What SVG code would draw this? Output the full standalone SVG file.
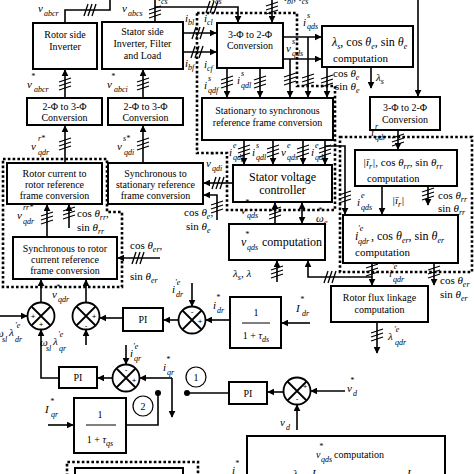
<svg xmlns="http://www.w3.org/2000/svg" width="474" height="474" viewBox="0 0 474 474">
<defs>
<style>
.bx{fill:#fff;stroke:#000;stroke-width:2}
.ln{fill:none;stroke:#000;stroke-width:1.6}
.ar{marker-end:url(#a)}
.dt{fill:none;stroke:#000;stroke-width:2.6;stroke-dasharray:2.6 2.2}
.t{font-family:"Liberation Serif",serif;font-size:10px;text-anchor:middle;fill:#000}
.tl{font-family:"Liberation Serif",serif;font-size:12px;text-anchor:middle;fill:#000}
.m{font-family:"Liberation Serif",serif;font-size:11px;font-style:italic;fill:#000}
.sb{font-size:8px}
.up{font-style:normal}
.jc{fill:#fff;stroke:#000;stroke-width:1.8}
.sg{font-family:"Liberation Sans",sans-serif;font-size:8px;text-anchor:middle;fill:#000}
.nc{fill:#fff;stroke:#000;stroke-width:1.2}
</style>
<marker id="a" viewBox="0 0 10 10" refX="9" refY="5" markerWidth="7" markerHeight="7" markerUnits="userSpaceOnUse" orient="auto-start-reverse"><path d="M0,0 L10,5 L0,10 z"/></marker>
<path id="hv" d="M-6,-2 L6,-6 M-6,2 L6,-2 M-6,6 L6,2" fill="none" stroke="#000" stroke-width="1.3"/>
<path id="hh" d="M-6,6 L-2,-6 M-2,6 L2,-6 M2,6 L6,-6" fill="none" stroke="#000" stroke-width="1.3"/>
<g id="jx"><circle r="13.5" class="jc"/><path d="M-9.5,-9.5 L9.5,9.5 M-9.5,9.5 L9.5,-9.5" stroke="#000" stroke-width="1.8"/></g>
</defs>
<rect width="474" height="474" fill="#fff"/>

<g id="dotted">
<path class="dt" d="M197,13 H297 V86 H335 V210 H227 V153 H197 Z"/>
<path class="dt" d="M340,137 H472 V272 H340 Z"/>
<path class="dt" d="M3,159 H107 V212 H122 V287 H3 Z"/>
<path class="dt" d="M67,476 V462 H198 V476"/>
</g>

<g id="connectors" class="ln">
<path d="M65,23 V10 H110 V0"/>
<path d="M155,22 V0"/>
<path class="ar" d="M155,7 H238 V22"/>
<path class="ar" d="M272,0 V22"/>
<path class="ar" d="M183,33 H216"/>
<path class="ar" d="M183,52 H216"/>
<path class="ar" d="M65,98 V70"/>
<path class="ar" d="M143,98 V70"/>
<path class="ar" d="M65,163 V126"/>
<path class="ar" d="M143,163 V126"/>
<path class="ar" d="M283,37 H321"/>
<path class="ar" d="M283,59 H321"/>
<path class="ar" d="M308,37 V97"/>
<path class="ar" d="M290,59 V97"/>
<path class="ar" d="M227,68 V97"/>
<path class="ar" d="M260,68 V97"/>
<path class="ar" d="M327,67 V97"/>
<path class="ar" d="M371,67 V88"/>
<path class="ar" d="M418,0 V96"/>
<path class="ar" d="M398,130 V149"/>
<path class="ar" d="M244,140 V164"/>
<path class="ar" d="M273,140 V164"/>
<path class="ar" d="M303,140 V164"/>
<path class="ar" d="M325,140 V164"/>
<path class="ar" d="M325,146 H345 V214"/>
<path class="ar" d="M382,186 V214"/>
<path class="ar" d="M428,186 V205"/>
<path class="ar" d="M233,183 H204"/>
<path class="ar" d="M217,220 V195 H204"/>
<path class="ar" d="M275,224 V203"/>
<path class="ar" d="M302,213 V203"/>
<path class="ar" d="M302,213 V223"/>
<path class="ar" d="M372,263 V285"/>
<path class="ar" d="M372,277 H308 V261"/>
<path class="ar" d="M277,282 V261"/>
<path class="ar" d="M434,263 V285"/>
<path class="ar" d="M377,322 V353"/>
<path class="ar" d="M47,237 V205"/>
<path class="ar" d="M69,228 V205"/>
<path class="ar" d="M160,258 H118"/>
<path class="ar" d="M41,302 V280"/>
<path class="ar" d="M86,302 V280"/>
<path class="ar" d="M0,316 H27"/>
<path class="ar" d="M123,318 H100"/>
<path class="ar" d="M86,345 V330"/>
<path class="ar" d="M59,378 H41 V330"/>
<path class="ar" d="M112,378 H98"/>
<path class="ar" d="M126,345 V364"/>
<path class="ar" d="M172,378 H140"/>
<path class="ar" d="M172,378 V417"/>
<path d="M126,425 H158 V393"/>
<path class="ar" d="M48,425 H73"/>
<path class="ar" d="M178,320 H164"/>
<path class="ar" d="M192,283 V306"/>
<path class="ar" d="M230,320 H206"/>
<path class="ar" d="M310,323 H282"/>
<path d="M187,393 H229"/>
<path class="ar" d="M283,392 H268"/>
<path class="ar" d="M345,391 H311"/>
<path class="ar" d="M297,430 V405"/>
</g>

<g id="hatches">
<use href="#hh" x="90" y="10"/>
<use href="#hv" x="155" y="12"/>
<use href="#hh" x="212" y="7"/>
<use href="#hv" x="272" y="8"/>
<use href="#hh" x="198" y="33"/>
<use href="#hh" x="197" y="52"/>
<use href="#hv" x="65" y="84"/>
<use href="#hv" x="143" y="84"/>
<use href="#hv" x="65" y="144"/>
<use href="#hv" x="143" y="144"/>
<use href="#hv" x="308" y="80"/>
<use href="#hv" x="290" y="79"/>
<use href="#hv" x="227" y="82"/>
<use href="#hv" x="260" y="82"/>
<use href="#hv" x="327" y="81"/>
<use href="#hv" x="398" y="140"/>
<use href="#hv" x="244" y="151"/>
<use href="#hv" x="273" y="151"/>
<use href="#hv" x="303" y="151"/>
<use href="#hv" x="325" y="151"/>
<use href="#hv" x="345" y="197"/>
<use href="#hv" x="428" y="194"/>
<use href="#hh" x="218" y="183"/>
<use href="#hv" x="217" y="207"/>
<use href="#hv" x="275" y="213"/>
<use href="#hv" x="372" y="270"/>
<use href="#hh" x="330" y="277"/>
<use href="#hv" x="277" y="272"/>
<use href="#hv" x="434" y="272"/>
<use href="#hv" x="377" y="335"/>
<use href="#hv" x="47" y="218"/>
<use href="#hv" x="69" y="213"/>
<use href="#hh" x="138" y="258"/>
</g>

<g id="n_rsi"><rect class="bx" x="33" y="23" width="64" height="46"/><text class="t" x="65" y="38">Rotor side</text><text class="t" x="65" y="50">Inverter</text></g>
<g id="n_ssi"><rect class="bx" x="102" y="22" width="81" height="47"/><text class="t" x="142.5" y="35">Stator side</text><text class="t" x="142.5" y="47">Inverter, Filter</text><text class="t" x="142.5" y="59">and Load</text></g>
<g id="n_32s"><rect class="bx" x="217" y="23" width="66" height="45"/><text class="t" x="250" y="38">3-Φ to 2-Φ</text><text class="t" x="250" y="49">Conversion</text></g>
<g id="n_lam"><rect class="bx" x="322" y="26" width="91" height="41"/>
<text class="m" x="332" y="46" style="font-size:12px">λ<tspan class="sb" dy="3">s</tspan><tspan class="up" dy="-3">, cos </tspan>θ<tspan class="sb" dy="3">e</tspan><tspan class="up" dy="-3">, sin </tspan>θ<tspan class="sb" dy="3">e</tspan></text>
<text class="m" x="333" y="62" style="font-style:normal">computation</text></g>
<g id="n_23r"><rect class="bx" x="27" y="98" width="75" height="27"/><text class="t" x="64.5" y="110">2-Φ to 3-Φ</text><text class="t" x="64.5" y="121">Conversion</text></g>
<g id="n_23s"><rect class="bx" x="108" y="98" width="75" height="27"/><text class="t" x="145.5" y="110">2-Φ to 3-Φ</text><text class="t" x="145.5" y="121">Conversion</text></g>
<g id="n_32r"><rect class="bx" x="370" y="97" width="70" height="33"/><text class="t" x="405" y="111">3-Φ to 2-Φ</text><text class="t" x="405" y="123">Conversion</text></g>
<g id="n_s2s"><rect class="bx" x="202" y="98" width="131" height="42"/><text class="t" x="267.5" y="114">Stationary to synchronous</text><text class="t" x="267.5" y="126">reference frame conversion</text></g>
<g id="n_rc2r"><rect class="bx" x="7" y="163" width="95" height="41"/><text class="t" x="54.5" y="177">Rotor current to</text><text class="t" x="54.5" y="188">rotor reference</text><text class="t" x="54.5" y="199">frame conversion</text></g>
<g id="n_sy2st"><rect class="bx" x="108" y="163" width="95" height="41"/><text class="t" x="155.5" y="177">Synchronous to</text><text class="t" x="155.5" y="188">stationary reference</text><text class="t" x="155.5" y="199">frame conversion</text></g>
<g id="n_svc"><rect class="bx" x="233" y="165" width="99" height="37"/><text class="tl" x="282.5" y="181">Stator voltage</text><text class="tl" x="282.5" y="194">controller</text></g>
<g id="n_ir"><rect class="bx" x="355" y="150" width="102" height="36"/>
<text class="m" x="363" y="166">|ī<tspan class="sb" dy="3">r</tspan><tspan dy="-3">|</tspan><tspan class="up">, cos </tspan>θ<tspan class="sb" dy="3">rr</tspan><tspan class="up" dy="-3">, sin </tspan>θ<tspan class="sb" dy="3">rr</tspan></text>
<text class="m" x="367" y="182" style="font-style:normal;font-size:10.5px">computation</text></g>
<g id="n_sy2r"><rect class="bx" x="13" y="237" width="104" height="42"/><text class="t" x="65" y="252">Synchronous to rotor</text><text class="t" x="65" y="263">current reference</text><text class="t" x="65" y="274">frame conversion</text></g>
<g id="n_vqc"><rect class="bx" x="229" y="224" width="96" height="36"/>
<text class="m" x="241" y="246" style="font-size:12px">v<tspan class="sb" x="245" y="237">*</tspan><tspan class="sb" x="247" y="250">qds</tspan><tspan class="up" x="262" y="246">computation</tspan></text></g>
<g id="n_iqdr"><rect class="bx" x="343" y="215" width="115" height="48"/>
<text class="m" x="355" y="240" style="font-size:12px">i<tspan class="sb" x="358" y="231">'e</tspan><tspan class="sb" x="358" y="244">qdr</tspan><tspan class="up" x="371" y="240">, cos </tspan>θ<tspan class="sb" dy="3">er</tspan><tspan class="up" dy="-3">, sin </tspan>θ<tspan class="sb" dy="3">er</tspan></text>
<text class="m" x="355" y="256" style="font-style:normal">computation</text></g>
<g id="n_rfl"><rect class="bx" x="331" y="286" width="97" height="36"/><text class="t" x="379.5" y="301">Rotor flux linkage</text><text class="t" x="379.5" y="313">computation</text></g>
<g id="n_pi1"><rect class="bx" x="123" y="308" width="40" height="23"/><text class="t" x="143" y="323">PI</text></g>
<g id="n_pi2"><rect class="bx" x="59" y="367" width="38" height="21"/><text class="t" x="78" y="381">PI</text></g>
<g id="n_pi3"><rect class="bx" x="229" y="382" width="38" height="22"/><text class="t" x="248" y="397">PI</text></g>
<g id="n_tfds"><rect class="bx" x="230" y="297" width="51" height="51"/><text class="t" x="256" y="316">1</text><path d="M242,323 H270" stroke="#000" stroke-width="1"/><text class="t" x="256" y="339">1 + <tspan font-style="italic">τ</tspan><tspan class="sb" font-style="italic" dy="3">ds</tspan></text></g>
<g id="n_tfqs"><rect class="bx" x="74" y="398" width="52" height="55"/><text class="t" x="100" y="418">1</text><path d="M86,425 H116" stroke="#000" stroke-width="1"/><text class="t" x="100" y="443">1 + <tspan font-style="italic">τ</tspan><tspan class="sb" font-style="italic" dy="3">qs</tspan></text></g>
<g id="n_vqc2"><rect class="bx" x="247" y="436" width="198" height="50"/>
<text class="m" x="316" y="458" style="font-size:10px">v<tspan class="sb" x="319" y="449">*</tspan><tspan class="sb" x="321" y="462">qds</tspan><tspan class="up" x="334" y="458">computation</tspan></text>
<text class="m" x="293" y="477">λ</text><text class="m" x="312" y="477">I</text><text class="m" x="407" y="477">I</text></g>
<g id="n_bl"><rect class="bx" x="75" y="468" width="108" height="20"/></g>

<g id="j1"><use href="#jx" x="41" y="316"/><text class="sg" x="33" y="319">+</text><text class="sg" x="41" y="327">+</text></g>
<g id="j2"><use href="#jx" x="86" y="316"/><text class="sg" x="94" y="319">+</text><text class="sg" x="86" y="328">-</text></g>
<g id="j3"><use href="#jx" x="126" y="378"/><text class="sg" x="126" y="372">-</text><text class="sg" x="134" y="383">+</text></g>
<g id="j4"><use href="#jx" x="297" y="391"/><text class="sg" x="305" y="389">+</text><text class="sg" x="297" y="401">-</text></g>
<g id="j5"><use href="#jx" x="192" y="320"/><text class="sg" x="192" y="314">-</text><text class="sg" x="200" y="324">+</text></g>
<g id="sw1"><circle class="nc" cx="196" cy="377" r="10"/><text class="t" x="196" y="381">1</text><circle cx="187" cy="393" r="3"/></g>
<g id="sw2"><circle class="nc" cx="143" cy="406" r="10"/><text class="t" x="143" y="410">2</text><circle cx="158" cy="393" r="3"/></g>

<g id="labels">
<text class="m" x="38" y="12">v<tspan class="sb" x="44" y="16">abcr</tspan></text>
<text class="m" x="122" y="12">v<tspan class="sb" x="128" y="16">abcs</tspan></text>
<text class="m" x="158" y="1">i<tspan class="sb" x="161" y="4">cs</tspan></text>
<text class="m" x="212" y="1">i<tspan class="sb" x="215" y="4">cs</tspan></text>
<text class="m" x="284" y="1">i<tspan class="sb" x="287" y="4">bl</tspan><tspan dy="-3">, i</tspan><tspan class="sb" dy="3">cs</tspan></text>
<text class="m" x="185" y="22">i<tspan class="sb" x="188" y="25">bl</tspan></text>
<text class="m" x="204" y="22">i<tspan class="sb" x="207" y="25">cl</tspan></text>
<text class="m" x="185" y="67">i<tspan class="sb" x="188" y="70">bf</tspan></text>
<text class="m" x="204" y="68">i<tspan class="sb" x="207" y="71">cf</tspan></text>
<text class="m" x="303" y="26">i<tspan class="sb" x="307" y="18">s</tspan><tspan class="sb" x="307" y="29">qds</tspan></text>
<text class="m" x="286" y="52">v<tspan class="sb" x="292" y="44">s</tspan><tspan class="sb" x="292" y="56">qds</tspan></text>
<text class="m" x="204" y="89">i<tspan class="sb" x="208" y="81">s</tspan><tspan class="sb" x="208" y="93">qdf</tspan></text>
<text class="m" x="237" y="84">i<tspan class="sb" x="241" y="76">s</tspan><tspan class="sb" x="241" y="88">qdl</tspan></text>
<text class="m" x="333" y="77"><tspan class="up">cos </tspan>θ<tspan class="sb" dy="3">e</tspan></text>
<text class="m" x="335" y="90"><tspan class="up">sin </tspan>θ<tspan class="sb" dy="3">e</tspan></text>
<text class="m" x="376" y="81">λ<tspan class="sb" dy="3">s</tspan></text>
<text class="m" x="27" y="88">v<tspan class="sb" x="31" y="79">*</tspan><tspan class="sb" x="34" y="92">abcr</tspan></text>
<text class="m" x="107" y="88">v<tspan class="sb" x="111" y="79">*</tspan><tspan class="sb" x="114" y="92">abci</tspan></text>
<text class="m" x="31" y="150">v<tspan class="sb" x="38" y="141">r*</tspan><tspan class="sb" x="38" y="155">qdr</tspan></text>
<text class="m" x="117" y="150">v<tspan class="sb" x="123" y="141">s*</tspan><tspan class="sb" x="124" y="155">qdi</tspan></text>
<text class="m" x="371" y="136">i<tspan class="sb" x="375" y="129">r</tspan><tspan class="sb" x="375" y="140">qdr</tspan></text>
<text class="m" x="229" y="156">i<tspan class="sb" x="233" y="148">e</tspan><tspan class="sb" x="233" y="160">qdf</tspan></text>
<text class="m" x="252" y="156">i<tspan class="sb" x="256" y="148">s</tspan><tspan class="sb" x="256" y="160">qdl</tspan></text>
<text class="m" x="281" y="156">v<tspan class="sb" x="287" y="148">e</tspan><tspan class="sb" x="287" y="160">qds</tspan></text>
<text class="m" x="311" y="156">i<tspan class="sb" x="315" y="148">e</tspan><tspan class="sb" x="315" y="160">qds</tspan></text>
<text class="m" x="438" y="199"><tspan class="up">cos </tspan>θ<tspan class="sb" dy="3">rr</tspan></text>
<text class="m" x="438" y="212"><tspan class="up">sin </tspan>θ<tspan class="sb" dy="3">rr</tspan></text>
<text class="m" x="392" y="204">|ī<tspan class="sb" dy="3">r</tspan><tspan dy="-3">|</tspan></text>
<text class="m" x="357" y="206">i<tspan class="sb" x="361" y="198">e</tspan><tspan class="sb" x="361" y="210">qds</tspan></text>
<text class="m" x="206" y="167">v<tspan class="sb" x="210" y="158">*</tspan><tspan class="sb" x="212" y="171">qdi</tspan></text>
<text class="m" x="184" y="216"><tspan class="up">cos </tspan>θ<tspan class="sb" dy="3">e</tspan><tspan dy="-3">,</tspan></text>
<text class="m" x="186" y="230"><tspan class="up">sin </tspan>θ<tspan class="sb" dy="3">e</tspan></text>
<text class="m" x="241" y="214">v<tspan class="sb" x="245" y="205">*</tspan><tspan class="sb" x="247" y="218">qds</tspan></text>
<text class="m" x="316" y="222">ω<tspan class="sb" x="318" y="213">*</tspan><tspan class="sb" x="324" y="225">e</tspan></text>
<text class="m" x="233" y="277">λ<tspan class="sb" dy="3">s</tspan><tspan dy="-3">, λ</tspan></text>
<text class="m" x="389" y="277">i<tspan class="sb" x="392" y="269">'e</tspan><tspan class="sb" x="393" y="282">qdr</tspan></text>
<text class="m" x="440" y="284"><tspan class="up">cos </tspan>θ<tspan class="sb" dy="3">er</tspan></text>
<text class="m" x="440" y="298"><tspan class="up">sin </tspan>θ<tspan class="sb" dy="3">er</tspan></text>
<text class="m" x="388" y="340">λ<tspan class="sb" x="394" y="332">'e</tspan><tspan class="sb" x="395" y="345">qdr</tspan></text>
<text class="m" x="17" y="219">v<tspan class="sb" x="23" y="210">rr*</tspan><tspan class="sb" x="23" y="224">qdr</tspan></text>
<text class="m" x="77" y="217"><tspan class="up">cos </tspan>θ<tspan class="sb" dy="3">rr</tspan><tspan dy="-3">,</tspan></text>
<text class="m" x="77" y="231"><tspan class="up">sin </tspan>θ<tspan class="sb" dy="3">rr</tspan></text>
<text class="m" x="130" y="249"><tspan class="up">cos </tspan>θ<tspan class="sb" dy="3">er</tspan><tspan dy="-3">,</tspan></text>
<text class="m" x="130" y="280"><tspan class="up">sin </tspan>θ<tspan class="sb" dy="3">er</tspan></text>
<text class="m" x="52" y="298">v<tspan class="sb" x="56" y="290">*</tspan><tspan class="sb" x="58" y="302">qdr</tspan></text>
<text class="m" x="-4" y="337">ω<tspan class="sb" x="2" y="342">sl</tspan><tspan x="9" y="336">λ</tspan><tspan class="sb" x="15" y="328">'e</tspan><tspan class="sb" x="15" y="342">dr</tspan></text>
<text class="m" x="40" y="346">ω<tspan class="sb" x="46" y="351">sl</tspan><tspan x="53" y="345">λ</tspan><tspan class="sb" x="58" y="337">'e</tspan><tspan class="sb" x="59" y="351">qr</tspan></text>
<text class="m" x="130" y="357">i<tspan class="sb" x="133" y="349">'e</tspan><tspan class="sb" x="134" y="361">qr</tspan></text>
<text class="m" x="45" y="413">I<tspan class="sb" x="50" y="404">*</tspan><tspan class="sb" x="51" y="417">qr</tspan></text>
<text class="m" x="163" y="371">i<tspan class="sb" x="166" y="362">*</tspan><tspan class="sb" x="167" y="375">qr</tspan></text>
<text class="m" x="172" y="293">i<tspan class="sb" x="175" y="285">'e</tspan><tspan class="sb" x="176" y="297">dr</tspan></text>
<text class="m" x="213" y="309">i<tspan class="sb" x="216" y="300">*</tspan><tspan class="sb" x="217" y="313">dr</tspan></text>
<text class="m" x="296" y="312">I<tspan class="sb" x="300" y="302">*</tspan><tspan class="sb" x="302" y="316">dr</tspan></text>
<text class="m" x="347" y="392">v<tspan class="sb" x="350" y="383">*</tspan><tspan class="sb" x="353" y="396">d</tspan></text>
<text class="m" x="280" y="426">v<tspan class="sb" x="286" y="430">d</tspan></text>
<text class="m" x="232" y="474">i<tspan class="sb" x="235" y="466">*</tspan></text>
</g>
</svg>
